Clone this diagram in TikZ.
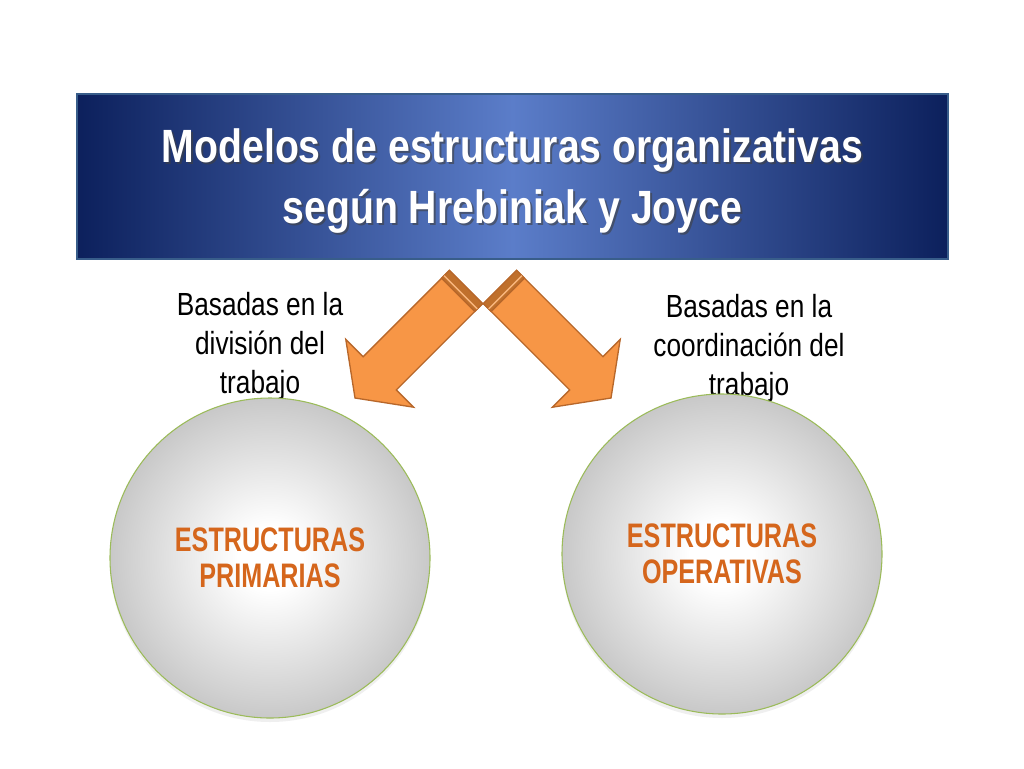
\documentclass[tikz,border=0pt]{standalone}
\usepackage{fontspec}
\setmainfont{Liberation Sans}
\newfontfamily\narrowfont[FakeStretch=0.82]{Liberation Sans}
\newfontfamily\titlefont[FakeStretch=0.84]{Liberation Sans Bold}
\newfontfamily\boxfont[FakeStretch=0.74]{Liberation Sans Bold}
\usetikzlibrary{shadows}
\definecolor{navydark}{HTML}{0C205C}
\definecolor{navylight}{HTML}{5B7DC9}
\definecolor{navyborder}{HTML}{385D8A}
\definecolor{arrowfill}{HTML}{F79646}
\definecolor{arrowline}{HTML}{B8672A}
\definecolor{arrowband}{HTML}{C0702C}
\definecolor{circleline}{HTML}{9BBB59}
\definecolor{labelorange}{HTML}{D5661C}
\pgfdeclareradialshading{sphere}{\pgfpoint{0bp}{0bp}}{color(0bp)=(white); color(5bp)=(white); color(22bp)=(black!18); color(35bp)=(black!33); color(50bp)=(black!36)}

\begin{document}
\begin{tikzpicture}[x=0.75pt, y=-0.75pt,
    titletext/.style={align=center, inner sep=0pt, font=\titlefont\fontsize{35}{45.75}\selectfont},
    sidetext/.style={align=center, inner sep=0pt, font=\narrowfont\fontsize{24}{29.25}\selectfont},
    bubble/.style={circle, minimum size=240pt, inner sep=0pt, draw=circleline, line width=0.8pt,
        shading=sphere, align=center, text=labelorange, font=\boxfont\fontsize{25.5}{27}\selectfont,
        drop shadow={opacity=0.12, shadow xshift=0pt, shadow yshift=-3pt}},
    bigarrow/.style={fill=arrowfill, draw=arrowline, line width=1pt, line join=miter}]
    \fill[white] (0,0) rectangle (1024,768);
    \useasboundingbox (0,0) rectangle (1024,768);

    % title banner
    \draw[navyborder, line width=1.5pt, left color=navydark, right color=navydark,
        middle color=navylight] (77,94) rectangle (948,259);
    \node (titleshadow) [titletext, text=black!75, opacity=0.6] at (514.5,183)
        {Modelos de estructuras organizativas\\según Hrebiniak y Joyce};
    \node (title) [titletext, text=white] at (512.5,181)
        {Modelos de estructuras organizativas\\según Hrebiniak y Joyce};

    % side labels
    \node (divlabel) [sidetext] at (260,346) {Basadas en la\\división del\\trabajo};
    \node (coordlabel) [sidetext] at (749,348) {Basadas en la\\coordinación del\\trabajo};

    % block arrows
    \draw[bigarrow] (449.4,270.4) -- (482.6,303.6) -- (396.3,389.9) -- (413.6,407.2)
        -- (355,398) -- (345.8,339.4) -- (363.1,356.7) -- cycle;
    \filldraw[arrowband, draw=arrowline, line width=1pt] (449.4,270.4) -- (482.6,303.6)
        -- (474.8,311.4) -- (441.6,278.2) -- cycle;
    \draw[arrowfill!70!white, line width=1pt] (444.1,275.7) -- (477.3,308.9);

    \draw[bigarrow] (516.6,270.4) -- (483.4,303.6) -- (569.7,389.9) -- (552.4,407.2)
        -- (611,398) -- (620.2,339.4) -- (602.9,356.7) -- cycle;
    \filldraw[arrowband, draw=arrowline, line width=1pt] (516.6,270.4) -- (483.4,303.6)
        -- (491.2,311.4) -- (524.4,278.2) -- cycle;
    \draw[arrowfill!70!white, line width=1pt] (521.9,275.7) -- (488.7,308.9);

    % spheres
    \node (primarias) [bubble] at (270,558) {ESTRUCTURAS\\PRIMARIAS};
    \node (operativas) [bubble] at (722,554) {ESTRUCTURAS\\OPERATIVAS};
\end{tikzpicture}
\end{document}
